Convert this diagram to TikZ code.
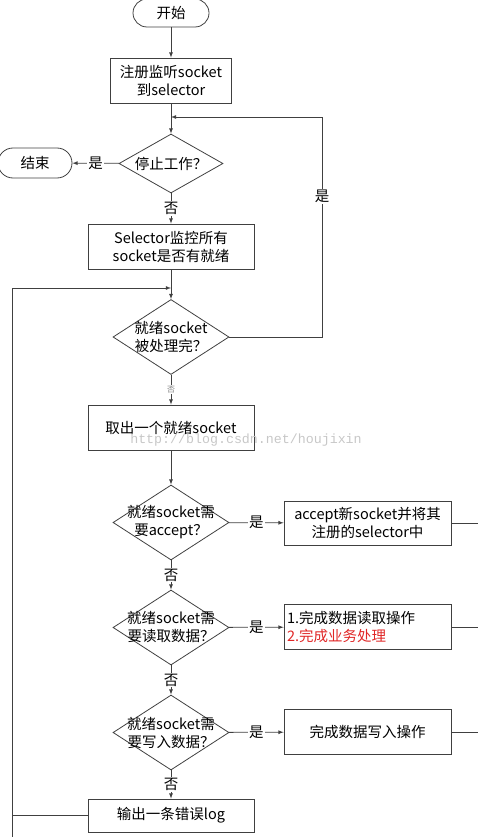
\documentclass[tikz,border=0pt]{standalone}
\usepackage{fontspec}
\setmainfont{Noto Sans CJK SC}
\newfontfamily\wmfont{Liberation Mono}
\usetikzlibrary{arrows,shapes.geometric,positioning}
\tikzset{>=latex}
\tikzset{
  line/.style={draw=black!75, line width=0.8pt},
  term/.style={line, rounded corners=14pt, minimum height=28pt},
  proc/.style={line, minimum width=166pt, minimum height=45pt, align=center},
  dec/.style={line, diamond, minimum width=116pt, minimum height=75pt, inner sep=0pt},
  lab/.style={fill=white, inner sep=1pt}
}

\begin{document}
\begin{tikzpicture}[x=1pt, y=-1pt, font=\fontsize{14.5pt}{18pt}\selectfont]
  \useasboundingbox (0,0) rectangle (478,837);

  % main column
  \node[term, minimum width=76pt] (start) at (171,13) {开始};
  \node[proc, minimum width=121pt] (reg) at (171,80.5) {注册监听socket\\到selector};
  \node[dec, minimum width=104pt, minimum height=59pt] (stop) at (171,163.5) {};
  \node (stoptxt) at (stop) {停止工作？};
  \node[term, minimum width=74pt, minimum height=30pt, rounded corners=15pt] (end) at (35,163) {结束};
  \node[proc] (mon) at (171,246.5) {Selector监控所有\\socket是否有就绪};
  \node[dec] (done) at (171,337) {};
  \node[align=center] (donetxt) at (done) {就绪socket\\被处理完？};
  \node[proc] (take) at (171,427.5) {取出一个就绪socket};
  \node[dec] (acc) at (171,522.5) {};
  \node[align=center] (acctxt) at (acc) {就绪socket需\\要accept？};
  \node[dec] (rd) at (171,627.5) {};
  \node[align=center] (rdtxt) at (rd) {就绪socket需\\要读取数据？};
  \node[dec] (wr) at (171,732.5) {};
  \node[align=center] (wrtxt) at (wr) {就绪socket需\\要写入数据？};
  \node[proc, minimum height=33pt] (log) at (171,815.5) {输出一条错误log};

  % right column
  \node[proc, minimum width=167pt, minimum height=44pt] (accbox) at (367.5,523) {accept新socket并将其\\注册的selector中};
  \node[proc, minimum width=167pt, text width=161pt, inner xsep=3pt, align=left] (rdbox) at (367.5,627)
    {1.完成数据读取操作\\\textcolor[rgb]{0.88,0.15,0.15}{2.完成业务处理}};
  \node[proc, minimum width=167pt] (wrbox) at (367.5,732) {完成数据写入操作};

  % watermark
  \node[text=black!22, font=\wmfont\fontsize{13.3pt}{14pt}\selectfont] (wm) at (246,440) {http://blog.csdn.net/houjixin};

  % loop points
  \coordinate (mergeA) at (171,117);
  \coordinate (rloop) at (322,117);
  \coordinate (mergeB) at (171,288);
  \coordinate (lloop) at (12,288);
  \coordinate (lbot) at (12,837);
  \coordinate (redge) at (480,0);

  % connectors
  \draw[line,->] (start) -- (reg);
  \draw[line,->] (reg) -- (stop);
  \draw[line,->] (stop) -- node[lab] {是} (end);
  \draw[line,->] (stop) -- node[lab] {否} (mon);
  \draw[line,->] (mon) -- (done);
  \draw[line,->] (done.east) -| node[lab, pos=0.82] {是} (rloop) -- (mergeA);
  \draw[line,->] (done) -- node[lab, text=black!50, font=\fontsize{8pt}{8pt}\selectfont] {否} (take);
  \draw[line,->] (take) -- (acc);
  \draw[line,->] (acc) -- node[lab] {是} (accbox);
  \draw[line,->] (acc) -- node[lab] {否} (rd);
  \draw[line,->] (rd) -- node[lab] {是} (rdbox);
  \draw[line,->] (rd) -- node[lab] {否} (wr);
  \draw[line,->] (wr) -- node[lab] {是} (wrbox);
  \draw[line,->] (wr) -- node[lab] {否} (log);
  \draw[line,->] (log.west) -| (lloop) -- (mergeB);
  \draw[line] (lbot) -- (lloop);
  \draw[line] (accbox.east) -- (accbox.east -| redge);
  \draw[line] (rdbox.east) -- (rdbox.east -| redge);
  \draw[line] (wrbox.east) -- (wrbox.east -| redge);
\end{tikzpicture}
\end{document}
